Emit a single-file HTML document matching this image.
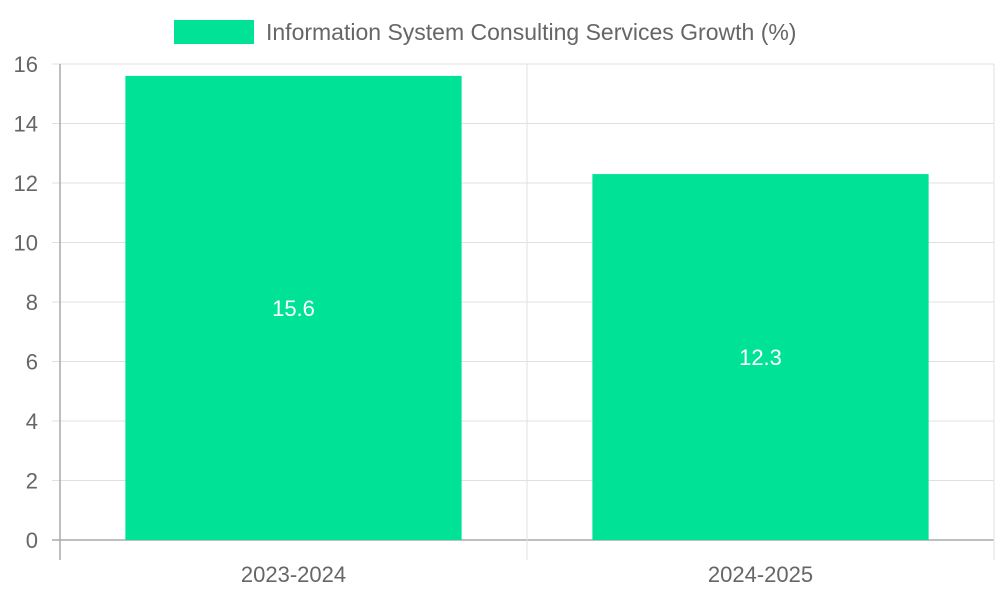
<!DOCTYPE html>
<html><head><meta charset="utf-8"><style>
body{margin:0;background:#fff;font-family:"Liberation Sans",sans-serif;}
</style></head><body>
<svg id="chart" width="1000" height="600" font-family="Liberation Sans, sans-serif">
<g>
<rect x="174" y="20" width="80" height="24" fill="#00e396"/>
<text x="266" y="40" font-size="23" fill="#666">Information System Consulting Services Growth (%)</text>
</g>
<g id="grid"></g><g id="bars"></g><g id="labels"></g>
</svg>
<script>
const categories=["2023-2024","2024-2025"];
const values=[15.6,12.3];
const yTicks=[0,2,4,6,8,10,12,14,16];
const ns="http://www.w3.org/2000/svg";
const L=60,R=994,T=64,B=540,yMax=16;
const y=v=>B-(v/yMax)*(B-T);
const cw=(R-L)/categories.length;
const x=i=>L+cw*i;
function mk(tag,attrs,parent,txt){const e=document.createElementNS(ns,tag);for(const k in attrs)e.setAttribute(k,attrs[k]);if(txt!==undefined)e.textContent=txt;document.getElementById(parent).appendChild(e);return e;}
yTicks.forEach(t=>{
 const l=mk('line',{x1:L-8,x2:R,y1:y(t),y2:y(t),stroke:t===0?'#aaa':'#e0e0e0','stroke-width':t===0?1.5:1},'grid');
 
 
 const tx=mk('text',{x:L-22,y:y(t)+8,'text-anchor':'end','font-size':22,fill:'#666'},'grid',t);
 
 
});
for(let i=0;i<=categories.length;i++){
 const l=mk('line',{x1:x(i),x2:x(i),y1:T,y2:B+20,stroke:i===0?'#aaa':'#e0e0e0','stroke-width':i===0?1.5:1},'grid');
 
 
}
categories.forEach((c,i)=>{
 const bw=cw*0.72,bx=x(i)+(cw-bw)/2;
 const r=mk('rect',{x:bx,y:y(values[i]),width:bw,height:B-y(values[i]),fill:'#00e396'},'bars');
 
 
 const v=mk('text',{x:x(i)+cw/2,y:(y(values[i])+B)/2+8,'text-anchor':'middle','font-size':22,fill:'#fff'},'labels',values[i]);
 
 
 const cl=mk('text',{x:x(i)+cw/2,y:582,'text-anchor':'middle','font-size':22,fill:'#666'},'labels',c);
 
 
});
</script>
</body></html>
